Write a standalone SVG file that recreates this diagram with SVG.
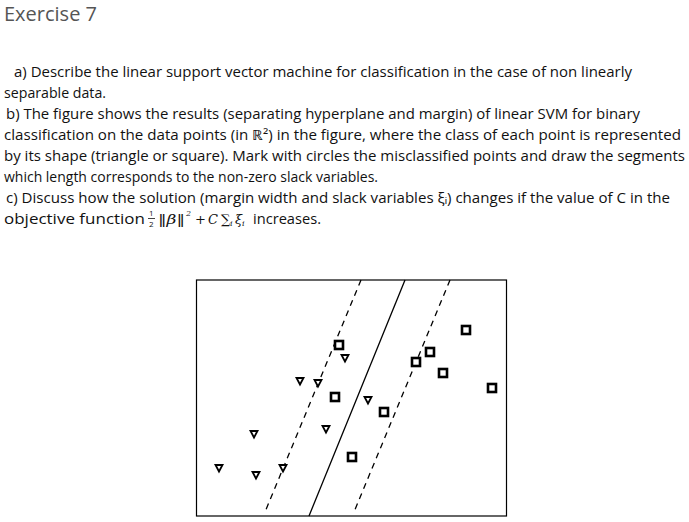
<svg xmlns="http://www.w3.org/2000/svg" width="689" height="522" viewBox="0 0 689 522">
<style>
text{font-family:"Open Sans","Liberation Sans",sans-serif;font-size:14px;fill:#111}
.t{font-size:20px;fill:#555}
.m{font-family:"DejaVu Serif",serif;font-size:13px;font-style:italic}
.s{font-family:"DejaVu Serif",serif;font-size:8px;font-style:italic}
.sq{fill:#fff;stroke:#000;stroke-width:2.6}
.tr{fill:#fff;stroke:#000;stroke-width:1.8}
.d{stroke:#000;stroke-width:1.3;stroke-dasharray:6,5;fill:none}
</style>
<rect width="689" height="522" fill="#fff"/>
<text class="t" x="4" y="21" textLength="93" lengthAdjust="spacingAndGlyphs">Exercise 7</text>
<text x="14" y="77" textLength="618" lengthAdjust="spacingAndGlyphs">a) Describe the linear support vector machine for classification in the case of non linearly</text>
<text x="4" y="98" textLength="102" lengthAdjust="spacingAndGlyphs">separable data.</text>
<text x="6" y="119" textLength="634" lengthAdjust="spacingAndGlyphs">b) The figure shows the results (separating hyperplane and margin) of linear SVM for binary</text>
<text x="4" y="140" textLength="677" lengthAdjust="spacingAndGlyphs">classification on the data points (in ℝ²) in the figure, where the class of each point is represented</text>
<text x="4" y="161" textLength="681" lengthAdjust="spacingAndGlyphs">by its shape (triangle or square). Mark with circles the misclassified points and draw the segments</text>
<text x="4" y="182" textLength="374" lengthAdjust="spacingAndGlyphs">which length corresponds to the non-zero slack variables.</text>
<text x="6" y="203" textLength="664" lengthAdjust="spacingAndGlyphs">c) Discuss how the solution (margin width and slack variables ξᵢ) changes if the value of C in the</text>
<text x="4" y="224" textLength="141" lengthAdjust="spacingAndGlyphs">objective function</text>
<text x="149" y="216" style="font-size:8px">1</text>
<line x1="148" y1="218.5" x2="155" y2="218.5" stroke="#111" stroke-width="0.8"/>
<text x="149" y="227" style="font-size:8px">2</text>
<text class="m" x="158" y="224" textLength="27" lengthAdjust="spacingAndGlyphs">‖β‖</text>
<text class="s" x="186" y="216">2</text>
<text class="m" x="195" y="224" style="font-style:normal">+</text>
<text class="m" x="208" y="224">C</text>
<text class="m" x="221" y="224" style="font-style:normal">∑</text>
<text class="s" x="230" y="226">i</text>
<text class="m" x="235" y="224">ξ</text>
<text class="s" x="242" y="226">i</text>
<text x="253" y="224" textLength="68" lengthAdjust="spacingAndGlyphs">increases.</text>
<g id="plot">
<rect x="196.5" y="280" width="310" height="236" fill="none" stroke="#000" stroke-width="1.2"/>
</g>
<g id="connectors">
<path d="M405,280 Q360,390 309,516" fill="none" stroke="#000" stroke-width="1.3"/>
<line class="d" x1="361" y1="280" x2="265" y2="512"/>
<line class="d" x1="450" y1="280" x2="354" y2="512"/>
</g>
<g id="squares">
<rect class="sq" x="335" y="341" width="8" height="8"/>
<rect class="sq" x="426" y="348" width="8" height="8"/>
<rect class="sq" x="412" y="358" width="8" height="8"/>
<rect class="sq" x="462" y="326" width="8" height="8"/>
<rect class="sq" x="439" y="369" width="8" height="8"/>
<rect class="sq" x="488" y="384" width="8" height="8"/>
<rect class="sq" x="331" y="393" width="8" height="8"/>
<rect class="sq" x="380" y="408" width="8" height="8"/>
<rect class="sq" x="348" y="453" width="8" height="8"/>
</g>
<g id="triangles">
<path class="tr" d="M341.5,355 h7 l-3.5,6.5z"/>
<path class="tr" d="M296.5,378 h7 l-3.5,6.5z"/>
<path class="tr" d="M314.5,380 h7 l-3.5,6.5z"/>
<path class="tr" d="M364.5,397 h7 l-3.5,6.5z"/>
<path class="tr" d="M322.5,426 h7 l-3.5,6.5z"/>
<path class="tr" d="M250.5,431 h7 l-3.5,6.5z"/>
<path class="tr" d="M215.5,465 h7 l-3.5,6.5z"/>
<path class="tr" d="M252.5,472 h7 l-3.5,6.5z"/>
<path class="tr" d="M279.5,465 h7 l-3.5,6.5z"/>
</g>
</svg>
